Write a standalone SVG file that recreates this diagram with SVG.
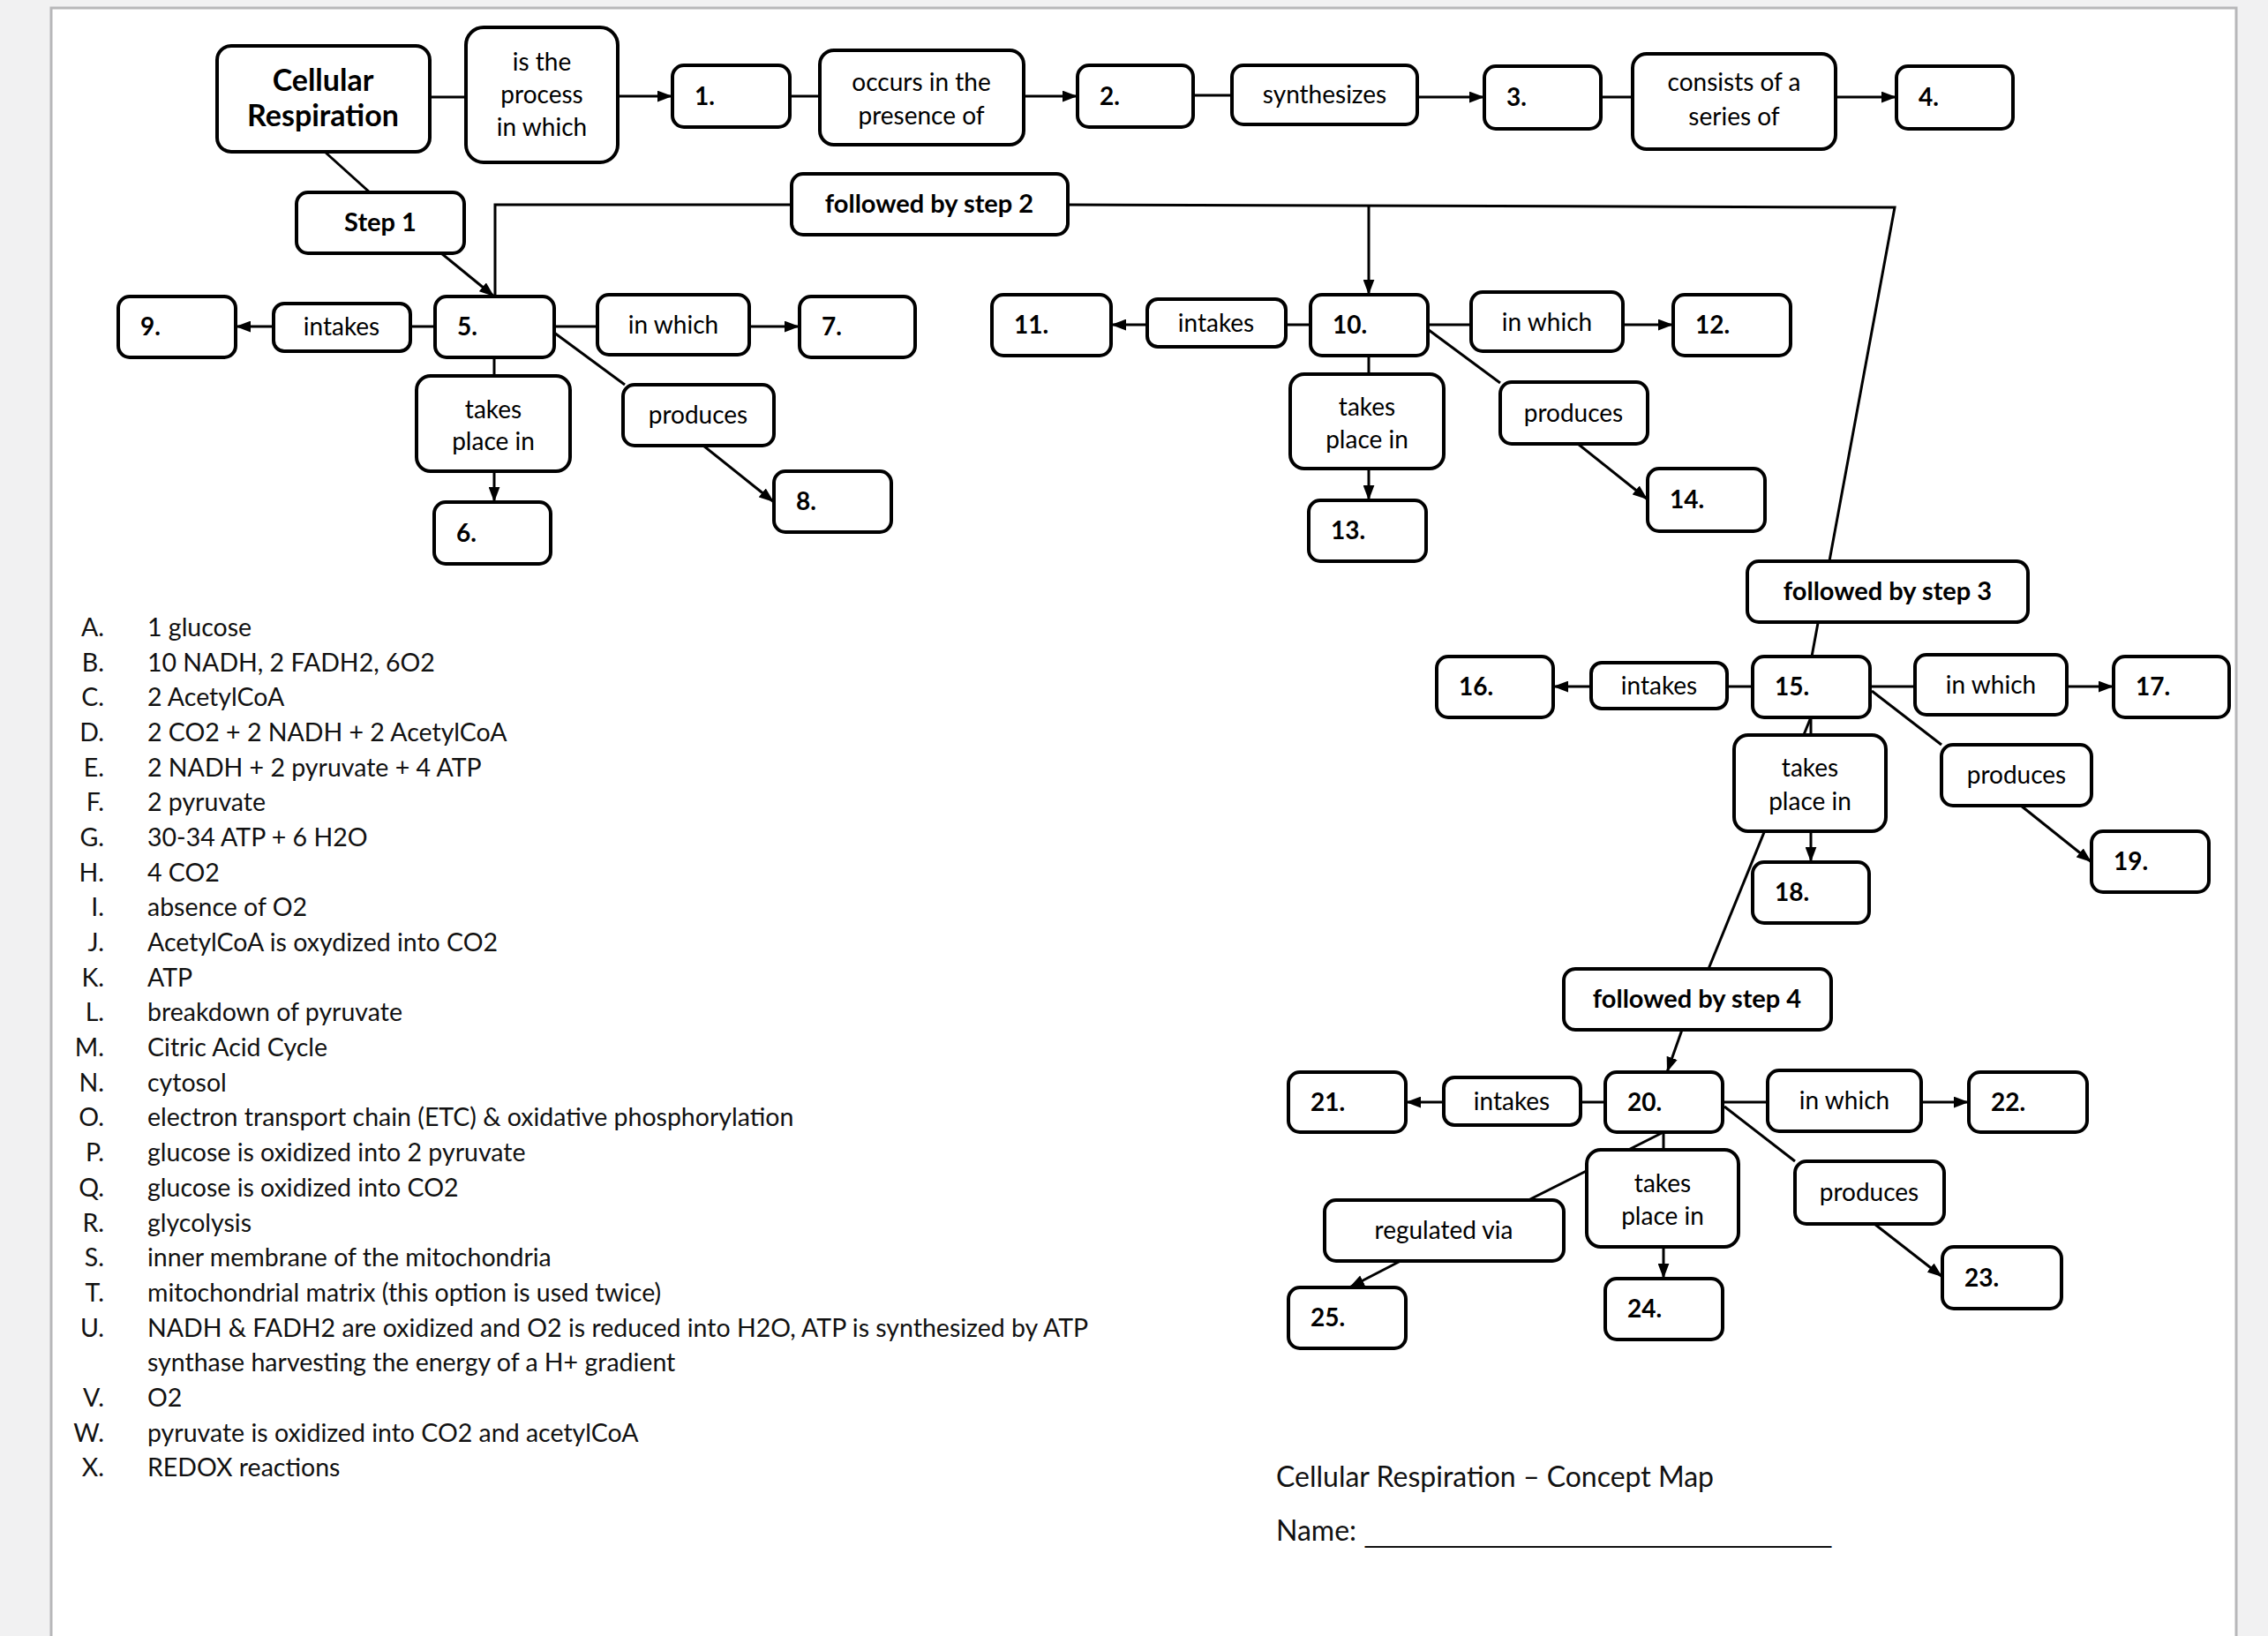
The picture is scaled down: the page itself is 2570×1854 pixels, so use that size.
<svg xmlns="http://www.w3.org/2000/svg" width="2570" height="1854" viewBox="0 0 2570 1854">
<defs>
<style>
.box{fill:#fff;stroke:#000;stroke-width:4}
.t{font-family:Lato,"Liberation Sans",sans-serif;font-size:28px;text-anchor:middle;fill:#000}
.b{font-weight:bold}
.fb{font-size:29px}
.num{font-family:Lato,"Liberation Sans",sans-serif;font-size:28px;font-weight:bold;fill:#000}
.c{stroke:#000;stroke-width:3;fill:none}
.a{marker-end:url(#arr)}
.li{font-family:Lato,"Liberation Sans",sans-serif;font-size:28.5px;fill:#111}
.lt{text-anchor:end}
.ft{font-family:Lato,"Liberation Sans",sans-serif;font-size:32px;fill:#111}
</style>
<marker id="arr" viewBox="0 0 16 12" refX="16" refY="6" markerWidth="17" markerHeight="13" markerUnits="userSpaceOnUse" orient="auto">
<path d="M0,0 L16,6 L0,12 z" fill="#000"/>
</marker>
</defs>
<rect x="0" y="0" width="2570" height="1854" fill="#f1f1f2"/>
<rect x="58" y="9" width="2476" height="1860" fill="#fff" stroke="#b7b7b9" stroke-width="3"/>

<g id="connectors">
<line class="c" x1="487" y1="110" x2="528" y2="110"/>
<line class="c a" x1="700" y1="109" x2="762" y2="109"/>
<line class="c" x1="895" y1="109" x2="929" y2="109"/>
<line class="c a" x1="1160" y1="109" x2="1221" y2="109"/>
<line class="c" x1="1352" y1="108" x2="1396" y2="108"/>
<line class="c a" x1="1606" y1="110" x2="1682" y2="110"/>
<line class="c" x1="1814" y1="110" x2="1850" y2="110"/>
<line class="c a" x1="2080" y1="110" x2="2149" y2="110"/>
<line class="c" x1="368" y1="172" x2="419" y2="218"/>
<line class="c a" x1="500" y1="287" x2="560" y2="336"/>
<polyline class="c" points="897,232 561,232 561,336"/>
<polyline class="c" points="1210,232 2147,235 2053,744"/>
<line class="c a" x1="1551" y1="232" x2="1551" y2="334"/>
<line class="c" x1="2052" y1="813" x2="1936" y2="1098"/>
<line class="c a" x1="1906" y1="1167" x2="1889" y2="1215"/>

<line class="c" x1="493" y1="370" x2="465" y2="370"/>
<line class="c a" x1="310" y1="370" x2="267" y2="370"/>
<line class="c" x1="628" y1="370" x2="677" y2="370"/>
<line class="c a" x1="849" y1="370" x2="906" y2="370"/>
<line class="c" x1="560" y1="405" x2="560" y2="426"/>
<line class="c a" x1="560" y1="534" x2="560" y2="569"/>
<line class="c" x1="628" y1="377" x2="708" y2="436"/>
<line class="c a" x1="797" y1="505" x2="877" y2="569"/>

<line class="c" x1="1485" y1="368" x2="1457" y2="368"/>
<line class="c a" x1="1300" y1="368" x2="1259" y2="368"/>
<line class="c" x1="1618" y1="368" x2="1667" y2="368"/>
<line class="c a" x1="1839" y1="368" x2="1896" y2="368"/>
<line class="c" x1="1551" y1="403" x2="1551" y2="424"/>
<line class="c a" x1="1551" y1="531" x2="1551" y2="567"/>
<line class="c" x1="1619" y1="374" x2="1700" y2="434"/>
<line class="c a" x1="1788" y1="503" x2="1867" y2="566"/>

<line class="c" x1="1986" y1="778" x2="1957" y2="778"/>
<line class="c a" x1="1803" y1="778" x2="1760" y2="778"/>
<line class="c" x1="2119" y1="778" x2="2170" y2="778"/>
<line class="c a" x1="2342" y1="778" x2="2395" y2="778"/>
<line class="c" x1="2052" y1="813" x2="2052" y2="833"/>
<line class="c a" x1="2052" y1="942" x2="2052" y2="977"/>
<line class="c" x1="2121" y1="783" x2="2200" y2="844"/>
<line class="c a" x1="2290" y1="913" x2="2370" y2="977"/>

<line class="c" x1="1819" y1="1249" x2="1791" y2="1249"/>
<line class="c a" x1="1636" y1="1249" x2="1593" y2="1249"/>
<line class="c" x1="1952" y1="1249" x2="2003" y2="1249"/>
<line class="c a" x1="2177" y1="1249" x2="2231" y2="1249"/>
<line class="c" x1="1885" y1="1283" x2="1885" y2="1303"/>
<line class="c a" x1="1885" y1="1413" x2="1885" y2="1449"/>
<line class="c" x1="1954" y1="1254" x2="2034" y2="1316"/>
<line class="c a" x1="2124" y1="1387" x2="2201" y2="1447"/>
<line class="c" x1="1885" y1="1283" x2="1732" y2="1360"/>
<line class="c a" x1="1587" y1="1429" x2="1529" y2="1459"/>
</g>

<g id="node-cr"><rect class="box" x="246" y="52" width="241" height="120" rx="16"/><text class="t b" x="366" y="103" style="font-size:34px">Cellular</text><text class="t b" x="366" y="143" style="font-size:34px">Respiration</text></g>
<g id="node-isthe"><rect class="box" x="528" y="31" width="172" height="153" rx="20"/><text class="t" x="614" y="80">is the</text><text class="t" x="614" y="117">process</text><text class="t" x="614" y="154">in which</text></g>
<g id="node-1"><rect class="box" x="762" y="74" width="133" height="70" rx="13"/><text class="num" x="787" y="119">1.</text></g>
<g id="node-occurs"><rect class="box" x="929" y="57" width="231" height="107" rx="16"/><text class="t" x="1044" y="103">occurs in the</text><text class="t" x="1044" y="141">presence of</text></g>
<g id="node-2"><rect class="box" x="1221" y="74" width="131" height="70" rx="13"/><text class="num" x="1246" y="119">2.</text></g>
<g id="node-synth"><rect class="box" x="1396" y="74" width="210" height="67" rx="13"/><text class="t" x="1501" y="117">synthesizes</text></g>
<g id="node-3"><rect class="box" x="1682" y="75" width="132" height="71" rx="13"/><text class="num" x="1707" y="120">3.</text></g>
<g id="node-consists"><rect class="box" x="1850" y="61" width="230" height="108" rx="16"/><text class="t" x="1965" y="103">consists of a</text><text class="t" x="1965" y="142">series of</text></g>
<g id="node-4"><rect class="box" x="2149" y="75" width="132" height="71" rx="13"/><text class="num" x="2174" y="120">4.</text></g>
<g id="node-step1"><rect class="box" x="336" y="218" width="190" height="69" rx="13"/><text class="t b fb" x="431" y="262">Step 1</text></g>
<g id="node-fbs2"><rect class="box" x="897" y="197" width="313" height="69" rx="13"/><text class="t b fb" x="1053" y="241">followed by step 2</text></g>

<g id="node-9"><rect class="box" x="134" y="336" width="133" height="69" rx="13"/><text class="num" x="159" y="380">9.</text></g>
<g id="node-intakes1"><rect class="box" x="310" y="344" width="155" height="54" rx="12"/><text class="t" x="387" y="380">intakes</text></g>
<g id="node-5"><rect class="box" x="493" y="336" width="135" height="69" rx="13"/><text class="num" x="518" y="380">5.</text></g>
<g id="node-inwhich1"><rect class="box" x="677" y="334" width="172" height="68" rx="13"/><text class="t" x="763" y="378">in which</text></g>
<g id="node-7"><rect class="box" x="906" y="336" width="131" height="69" rx="13"/><text class="num" x="931" y="380">7.</text></g>
<g id="node-takes1"><rect class="box" x="472" y="426" width="174" height="108" rx="16"/><text class="t" x="559" y="474">takes</text><text class="t" x="559" y="510">place in</text></g>
<g id="node-produces1"><rect class="box" x="706" y="436" width="171" height="69" rx="13"/><text class="t" x="791" y="480">produces</text></g>
<g id="node-8"><rect class="box" x="877" y="534" width="133" height="69" rx="13"/><text class="num" x="902" y="578">8.</text></g>
<g id="node-6"><rect class="box" x="492" y="569" width="132" height="70" rx="13"/><text class="num" x="517" y="614">6.</text></g>

<g id="node-11"><rect class="box" x="1124" y="334" width="135" height="69" rx="13"/><text class="num" x="1149" y="378">11.</text></g>
<g id="node-intakes2"><rect class="box" x="1300" y="339" width="157" height="54" rx="12"/><text class="t" x="1378" y="376">intakes</text></g>
<g id="node-10"><rect class="box" x="1485" y="334" width="133" height="69" rx="13"/><text class="num" x="1510" y="378">10.</text></g>
<g id="node-inwhich2"><rect class="box" x="1667" y="331" width="172" height="67" rx="13"/><text class="t" x="1753" y="375">in which</text></g>
<g id="node-12"><rect class="box" x="1896" y="334" width="133" height="69" rx="13"/><text class="num" x="1921" y="378">12.</text></g>
<g id="node-takes2"><rect class="box" x="1462" y="424" width="174" height="107" rx="16"/><text class="t" x="1549" y="471">takes</text><text class="t" x="1549" y="508">place in</text></g>
<g id="node-produces2"><rect class="box" x="1700" y="433" width="167" height="70" rx="13"/><text class="t" x="1783" y="478">produces</text></g>
<g id="node-14"><rect class="box" x="1867" y="531" width="133" height="71" rx="13"/><text class="num" x="1892" y="576">14.</text></g>
<g id="node-13"><rect class="box" x="1483" y="567" width="133" height="69" rx="13"/><text class="num" x="1508" y="611">13.</text></g>

<g id="node-fbs3"><rect class="box" x="1980" y="636" width="318" height="69" rx="13"/><text class="t b fb" x="2139" y="680">followed by step 3</text></g>
<g id="node-16"><rect class="box" x="1628" y="744" width="132" height="69" rx="13"/><text class="num" x="1653" y="788">16.</text></g>
<g id="node-intakes3"><rect class="box" x="1803" y="751" width="154" height="52" rx="12"/><text class="t" x="1880" y="787">intakes</text></g>
<g id="node-15"><rect class="box" x="1986" y="744" width="133" height="69" rx="13"/><text class="num" x="2011" y="788">15.</text></g>
<g id="node-inwhich3"><rect class="box" x="2170" y="742" width="172" height="68" rx="13"/><text class="t" x="2256" y="786">in which</text></g>
<g id="node-17"><rect class="box" x="2395" y="744" width="131" height="69" rx="13"/><text class="num" x="2420" y="788">17.</text></g>
<g id="node-takes3"><rect class="box" x="1965" y="833" width="172" height="109" rx="16"/><text class="t" x="2051" y="880">takes</text><text class="t" x="2051" y="918">place in</text></g>
<g id="node-produces3"><rect class="box" x="2200" y="844" width="170" height="69" rx="13"/><text class="t" x="2285" y="888">produces</text></g>
<g id="node-19"><rect class="box" x="2370" y="942" width="133" height="69" rx="13"/><text class="num" x="2395" y="986">19.</text></g>
<g id="node-18"><rect class="box" x="1986" y="977" width="132" height="69" rx="13"/><text class="num" x="2011" y="1021">18.</text></g>

<g id="node-fbs4"><rect class="box" x="1772" y="1098" width="303" height="69" rx="13"/><text class="t b fb" x="1923" y="1142">followed by step 4</text></g>
<g id="node-21"><rect class="box" x="1460" y="1215" width="133" height="68" rx="13"/><text class="num" x="1485" y="1259">21.</text></g>
<g id="node-intakes4"><rect class="box" x="1636" y="1221" width="155" height="54" rx="12"/><text class="t" x="1713" y="1258">intakes</text></g>
<g id="node-20"><rect class="box" x="1819" y="1215" width="133" height="68" rx="13"/><text class="num" x="1844" y="1259">20.</text></g>
<g id="node-inwhich4"><rect class="box" x="2003" y="1213" width="174" height="69" rx="13"/><text class="t" x="2090" y="1257">in which</text></g>
<g id="node-22"><rect class="box" x="2231" y="1215" width="134" height="68" rx="13"/><text class="num" x="2256" y="1259">22.</text></g>
<g id="node-takes4"><rect class="box" x="1798" y="1303" width="172" height="110" rx="16"/><text class="t" x="1884" y="1351">takes</text><text class="t" x="1884" y="1388">place in</text></g>
<g id="node-produces4"><rect class="box" x="2034" y="1316" width="169" height="71" rx="13"/><text class="t" x="2118" y="1361">produces</text></g>
<g id="node-23"><rect class="box" x="2201" y="1413" width="135" height="70" rx="13"/><text class="num" x="2226" y="1458">23.</text></g>
<g id="node-regvia"><rect class="box" x="1501" y="1360" width="271" height="69" rx="13"/><text class="t" x="1636" y="1404">regulated via</text></g>
<g id="node-25"><rect class="box" x="1460" y="1459" width="133" height="69" rx="13"/><text class="num" x="1485" y="1503">25.</text></g>
<g id="node-24"><rect class="box" x="1819" y="1449" width="133" height="69" rx="13"/><text class="num" x="1844" y="1493">24.</text></g>

<g id="answer-list">
<text class="li lt" x="118" y="721">A.</text><text class="li" x="167" y="721">1 glucose</text>
<text class="li lt" x="118" y="761">B.</text><text class="li" x="167" y="761">10 NADH, 2 FADH2, 6O2</text>
<text class="li lt" x="118" y="800">C.</text><text class="li" x="167" y="800">2 AcetylCoA</text>
<text class="li lt" x="118" y="840">D.</text><text class="li" x="167" y="840">2 CO2 + 2 NADH + 2 AcetylCoA</text>
<text class="li lt" x="118" y="880">E.</text><text class="li" x="167" y="880">2 NADH + 2 pyruvate + 4 ATP</text>
<text class="li lt" x="118" y="919">F.</text><text class="li" x="167" y="919">2 pyruvate</text>
<text class="li lt" x="118" y="959">G.</text><text class="li" x="167" y="959">30-34 ATP + 6 H2O</text>
<text class="li lt" x="118" y="999">H.</text><text class="li" x="167" y="999">4 CO2</text>
<text class="li lt" x="118" y="1038">I.</text><text class="li" x="167" y="1038">absence of O2</text>
<text class="li lt" x="118" y="1078">J.</text><text class="li" x="167" y="1078">AcetylCoA is oxydized into CO2</text>
<text class="li lt" x="118" y="1118">K.</text><text class="li" x="167" y="1118">ATP</text>
<text class="li lt" x="118" y="1157">L.</text><text class="li" x="167" y="1157">breakdown of pyruvate</text>
<text class="li lt" x="118" y="1197">M.</text><text class="li" x="167" y="1197">Citric Acid Cycle</text>
<text class="li lt" x="118" y="1237">N.</text><text class="li" x="167" y="1237">cytosol</text>
<text class="li lt" x="118" y="1276">O.</text><text class="li" x="167" y="1276">electron transport chain (ETC) &amp; oxidative phosphorylation</text>
<text class="li lt" x="118" y="1316">P.</text><text class="li" x="167" y="1316">glucose is oxidized into 2 pyruvate</text>
<text class="li lt" x="118" y="1356">Q.</text><text class="li" x="167" y="1356">glucose is oxidized into CO2</text>
<text class="li lt" x="118" y="1396">R.</text><text class="li" x="167" y="1396">glycolysis</text>
<text class="li lt" x="118" y="1435">S.</text><text class="li" x="167" y="1435">inner membrane of the mitochondria</text>
<text class="li lt" x="118" y="1475">T.</text><text class="li" x="167" y="1475">mitochondrial matrix (this option is used twice)</text>
<text class="li lt" x="118" y="1515">U.</text><text class="li" x="167" y="1515">NADH &amp; FADH2 are oxidized and O2 is reduced into H2O, ATP is synthesized by ATP</text>
<text class="li" x="167" y="1554">synthase harvesting the energy of a H+ gradient</text>
<text class="li lt" x="118" y="1594">V.</text><text class="li" x="167" y="1594">O2</text>
<text class="li lt" x="118" y="1634">W.</text><text class="li" x="167" y="1634">pyruvate is oxidized into CO2 and acetylCoA</text>
<text class="li lt" x="118" y="1673">X.</text><text class="li" x="167" y="1673">REDOX reactions</text>
</g>

<g id="footer">
<text class="ft" x="1446" y="1685">Cellular Respiration – Concept Map</text>
<text class="ft" x="1446" y="1746">Name:</text>
<text x="1547" y="1748" font-family="'Liberation Sans',sans-serif" font-size="32" fill="#111" textLength="528" lengthAdjust="spacingAndGlyphs">____________________________</text>
</g>
</svg>
